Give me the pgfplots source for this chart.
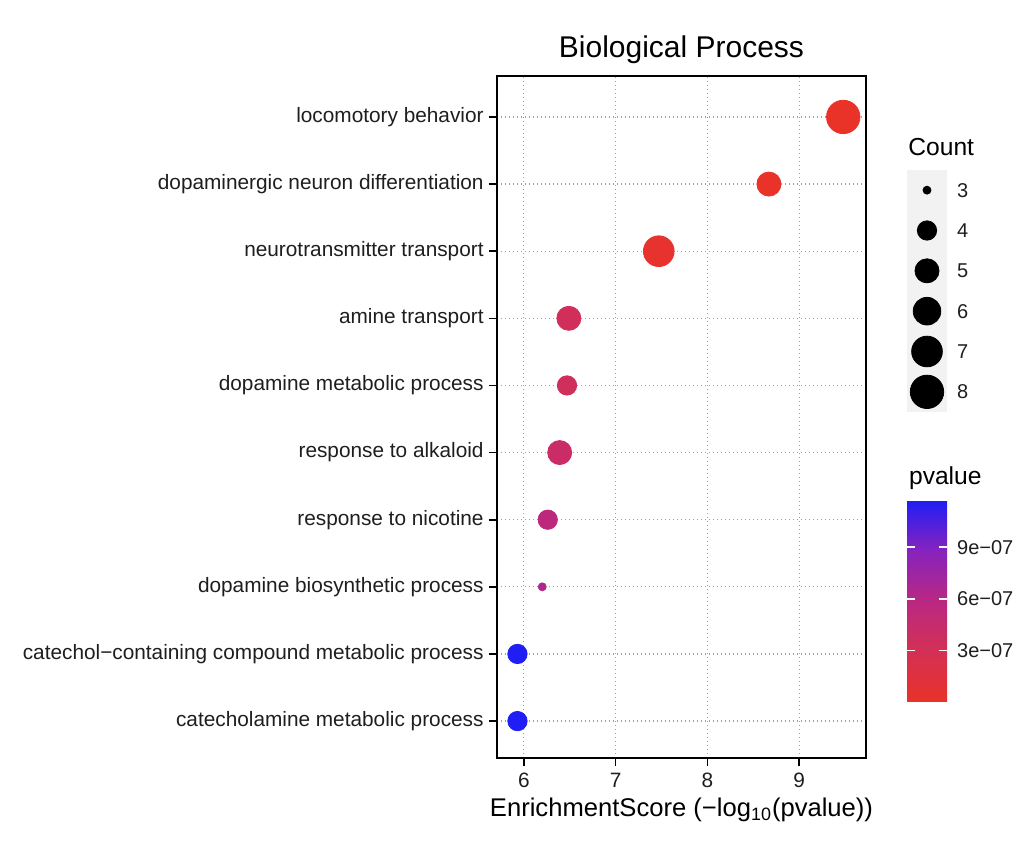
\documentclass[border=0pt]{standalone}
\usepackage{fontspec}
\setmainfont{Liberation Sans}
\usepackage{pgfplots}
\pgfplotsset{compat=1.18}
\usepackage{pgfplotstable}

\pgfplotstableread{
y score pvalue count
10 9.48 3.31e-10 8
9 8.67 2.14e-9 5
8 7.47 3.39e-8 7
7 6.49 3.24e-7 5
6 6.47 3.39e-7 4
5 6.39 4.07e-7 5
4 6.26 5.50e-7 4
3 6.20 6.31e-7 3
2 5.93 1.175e-6 4
1 5.93 1.175e-6 4
}\datatable

\pgfplotstableread{
x count
0.5 3
0.5 4
0.5 5
0.5 6
0.5 7
0.5 8
}\sizetable

\definecolor{txt}{HTML}{1E1E1E}

\begin{document}
\begin{tikzpicture}[x=1pt,y=1pt]
\path[use as bounding box] (0,0) rectangle (512,429);
\begin{axis}[
  at={(248.5pt,50pt)}, anchor=south west,
  scale only axis, width=184.5pt, height=341pt,
  xmin=5.707, xmax=9.728, ymin=0.45, ymax=10.61,
  xtick={6,7,8,9}, ytick={1,...,10},
  yticklabels={catecholamine metabolic process,
    catechol−containing compound metabolic process,
    dopamine biosynthetic process,
    response to nicotine,
    response to alkaloid,
    dopamine metabolic process,
    amine transport,
    neurotransmitter transport,
    dopaminergic neuron differentiation,
    locomotory behavior},
  xtick pos=bottom, ytick pos=left,
  tick align=outside, major tick length=4pt,
  tick style={black, line width=0.8pt},
  axis line style={black, line width=1pt},
  grid=major,
  grid style={gray!75, line width=0.6pt, dash pattern=on 0.6pt off 1.4pt},
  ticklabel style={font=\fontsize{10.4}{12}\selectfont, text=txt},
  yticklabel style={inner sep=2.5pt},
  /pgf/number format/assume math mode=true,
  title={Biological Process},
  title style={at={(axis description cs:0.5,1)}, anchor=base, yshift=3.3pt, inner sep=0pt, font=\fontsize{15}{18}\selectfont, text=black},
  xlabel={EnrichmentScore (−log\textsubscript{10}(pvalue))},
  xlabel style={at={(axis description cs:0.5,0)}, anchor=base, yshift=-29pt, inner sep=0pt, font=\fontsize{12.8}{15}\selectfont, text=black},
  colormap={rb}{rgb255=(233,50,40) rgb255=(212,48,85) rgb255=(185,40,130) rgb255=(135,35,190) rgb255=(30,30,245)},
  point meta min=3.31e-10, point meta max=1.175e-6,
  colorbar,
  colorbar/width=20pt,
  colorbar style={
    at={(parent axis.south east)}, anchor=south west,
    xshift=12pt, yshift=28pt,
    scale only axis,
    width=20pt, height=101pt,
    scaled y ticks=false,
    ytick={3e-7,6e-7,9e-7},
    yticklabels={3e−07,6e−07,9e−07},
    yticklabel pos=right, ytick pos=both,
    tick align=inside, major tick length=4pt,
    ytick style={white, line width=0.8pt},
    axis line style={draw=none},
    yticklabel style={font=\fontsize{10}{12}\selectfont, text=txt, xshift=1.5pt},
    /pgf/number format/assume math mode=true,
    title={pvalue},
    title style={at={(0,1)}, anchor=base west, yshift=1.5pt, xshift=0.8pt, inner sep=0pt, font=\fontsize{12.3}{14}\selectfont, text=black},
  },
]
\addplot[scatter, only marks, mark=*,
  point meta=\thisrow{pvalue},
  scatter/use mapped color={draw=mapped color, fill=mapped color},
  visualization depends on={\thisrow{count} \as \cnt},
  scatter/@pre marker code/.append style={/tikz/mark size={2+6.35*sqrt((\cnt-3)/5)}}
] table[x=score, y=y] {\datatable};
\end{axis}

\begin{axis}[
  at={(453.5pt,223pt)}, anchor=south west,
  scale only axis, width=20pt, height=121pt,
  xmin=0, xmax=1, ymin=2.5, ymax=8.5, y dir=reverse,
  axis line style={draw=none},
  xtick=\empty, ytick={3,...,8},
  yticklabel pos=right, ytick pos=right,
  major tick length=0pt,
  axis background/.style={fill=gray!10},
  yticklabel style={font=\fontsize{10}{12}\selectfont, text=txt, xshift=1.5pt},
  /pgf/number format/assume math mode=true,
  title={Count},
  title style={at={(0,1)}, anchor=base west, yshift=1.5pt, xshift=0.5pt, inner sep=0pt, font=\fontsize{12.3}{14}\selectfont, text=black},
]
\addplot[scatter, only marks, mark=*,
  point meta=\thisrow{count},
  scatter/use mapped color={draw=black, fill=black},
  visualization depends on={\thisrow{count} \as \cnt},
  scatter/@pre marker code/.append style={/tikz/mark size={2+6.35*sqrt((\cnt-3)/5)}}
] table[x=x, y=count] {\sizetable};
\end{axis}
\end{tikzpicture}
\end{document}
